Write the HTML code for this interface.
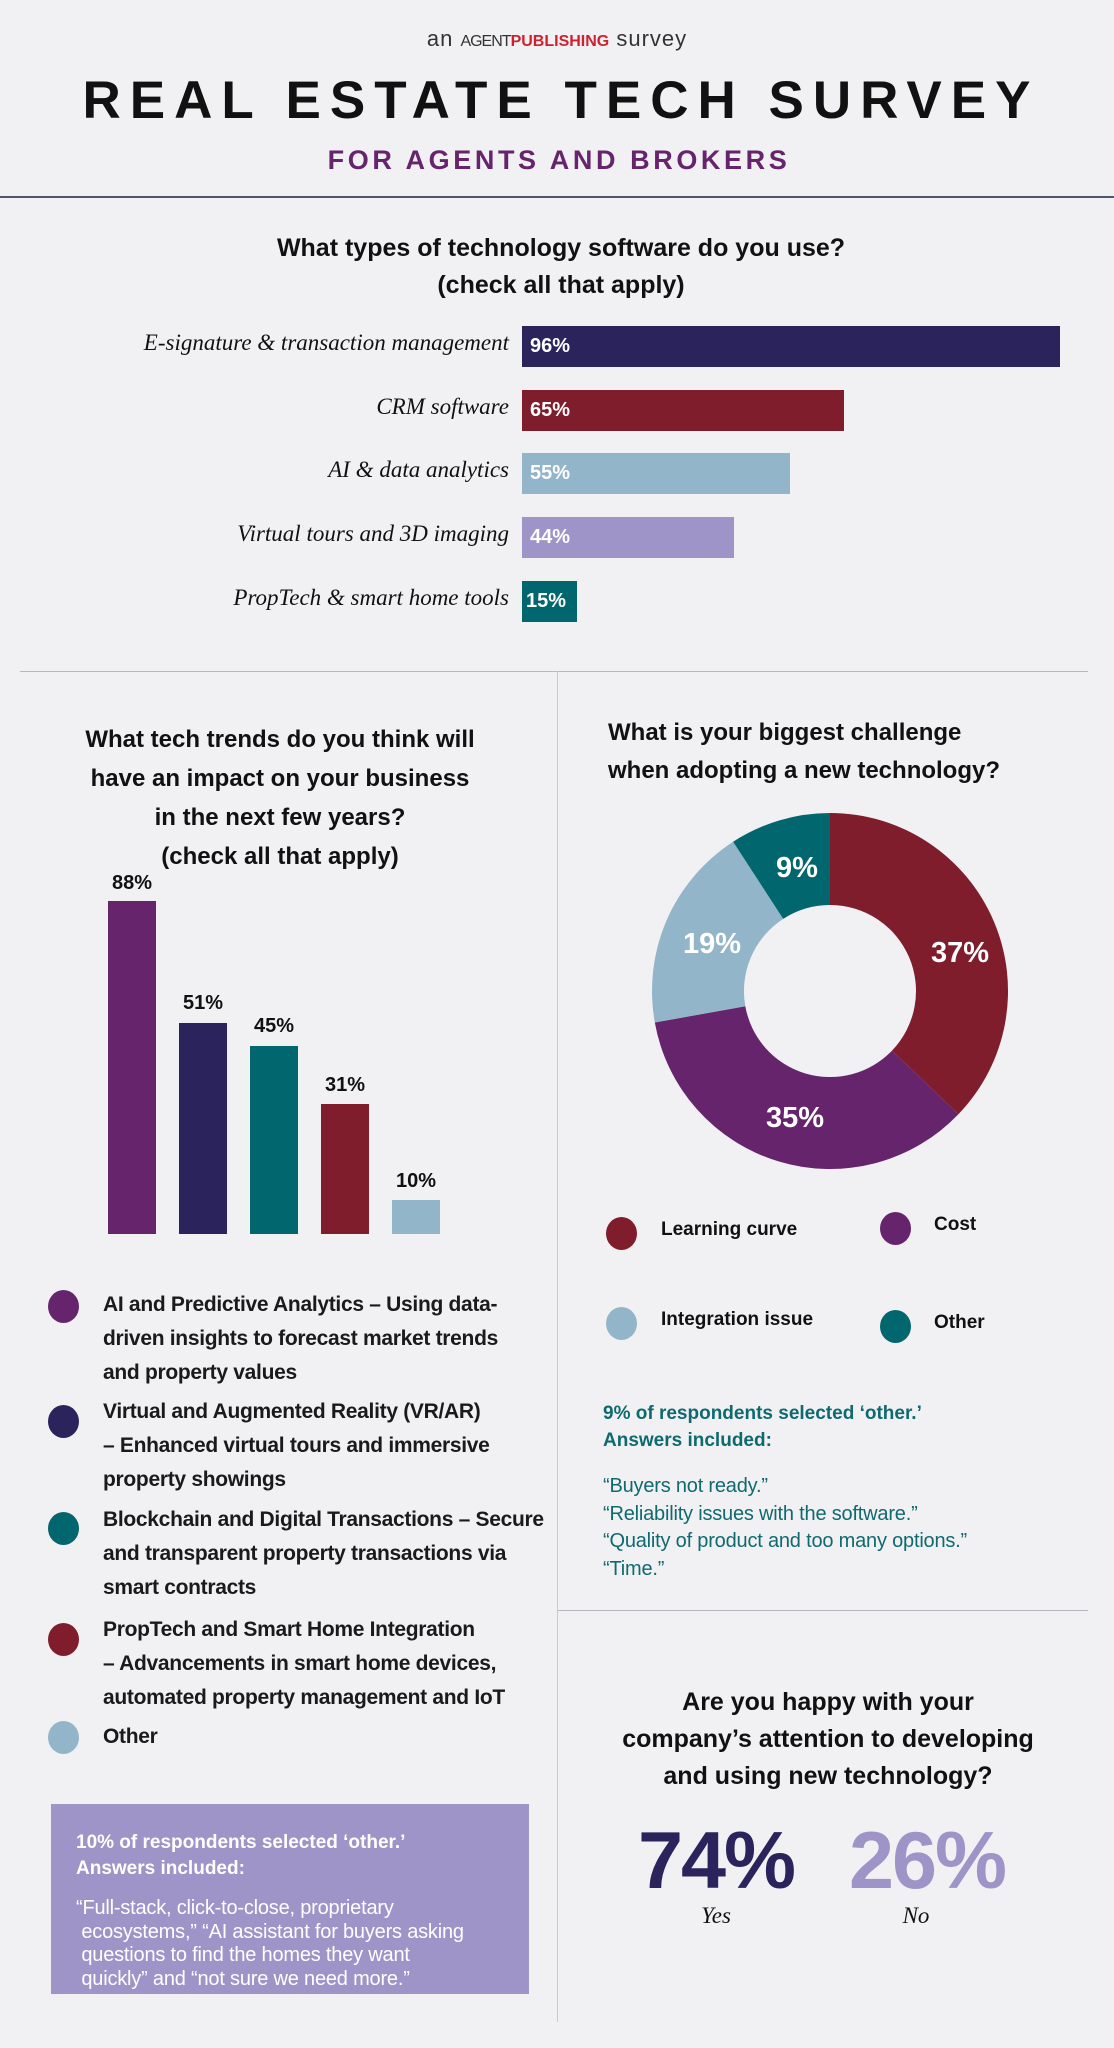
<!DOCTYPE html>
<html><head><meta charset="utf-8"><style>
body{margin:0;background:#f1f1f3;}
#p{position:relative;width:1114px;height:2048px;background:#f1f1f3;font-family:"Liberation Sans",sans-serif;color:#111;overflow:hidden}
.a{position:absolute}
.c{text-align:center}
.b{font-weight:bold}
.lab{position:absolute;right:605px;font-family:"Liberation Serif",serif;font-style:italic;font-size:23px;text-align:right;white-space:nowrap}
.bar{position:absolute;left:522px;height:41px;color:#fff;font-weight:bold;font-size:20px;line-height:41px;padding-left:8px;box-sizing:border-box}
.vb{position:absolute;width:48px}
.vl{position:absolute;width:70px;text-align:center;font-weight:bold;font-size:20px}
.dot{position:absolute;width:31px;height:33px;border-radius:50%}
.lt{position:absolute;left:103px;font-size:21px;line-height:34px;font-weight:bold;color:#1a1a1a;white-space:nowrap;letter-spacing:-0.3px}
</style></head><body><div id="p">
<div class="a c" style="left:0;width:1114px;top:26px;font-size:22px;color:#333;letter-spacing:1px">an <span style="font-size:16px;letter-spacing:-1px">AGENT</span><span style="font-size:16px;color:#d0202e;font-weight:bold;letter-spacing:0">PUBLISHING</span> survey</div>
<div class="a c b" style="left:0;width:1122px;top:70px;font-size:53px;letter-spacing:9px">REAL ESTATE TECH SURVEY</div>
<div class="a c b" style="left:0;width:1118px;top:145px;font-size:27px;letter-spacing:3.6px;color:#66246d">FOR AGENTS AND BROKERS</div>
<div class="a" style="left:0;top:196px;width:1114px;height:2px;background:#4e5670"></div>
<div class="a c b" style="left:0;width:1122px;top:230px;font-size:25px;line-height:37px">What types of technology software do you use?<br>(check all that apply)</div>
<div class="lab" style="top:330px">E-signature &amp; transaction management</div>
<div class="lab" style="top:394px">CRM software</div>
<div class="lab" style="top:457px">AI &amp; data analytics</div>
<div class="lab" style="top:521px">Virtual tours and 3D imaging</div>
<div class="lab" style="top:585px">PropTech &amp; smart home tools</div>
<div class="bar" style="top:326px;width:538px;background:#2a235c">96%</div>
<div class="bar" style="top:390px;width:322px;background:#7f1d2d">65%</div>
<div class="bar" style="top:453px;width:268px;background:#93b5c9">55%</div>
<div class="bar" style="top:517px;width:212px;background:#9f94c8">44%</div>
<div class="bar" style="top:581px;width:55px;background:#02666e;padding-left:4px">15%</div>
<div class="a" style="left:20px;top:671px;width:1068px;height:1px;background:#b9b9bd"></div>
<div class="a" style="left:557px;top:671px;width:1px;height:1351px;background:#c9c9cd"></div>
<div class="a c b" style="left:20px;width:520px;top:720px;font-size:24px;line-height:39px">What tech trends do you think will<br>have an impact on your business<br>in the next few years?<br>(check all that apply)</div>
<div class="vb" style="left:108px;top:901px;height:333px;background:#66246d"></div>
<div class="vb" style="left:179px;top:1023px;height:211px;background:#2a235c"></div>
<div class="vb" style="left:250px;top:1046px;height:188px;background:#02666e"></div>
<div class="vb" style="left:321px;top:1104px;height:130px;background:#7f1d2d"></div>
<div class="vb" style="left:392px;top:1200px;height:34px;background:#93b5c9"></div>
<div class="vl" style="left:97px;top:872px">88%</div>
<div class="vl" style="left:168px;top:992px">51%</div>
<div class="vl" style="left:239px;top:1015px">45%</div>
<div class="vl" style="left:310px;top:1074px">31%</div>
<div class="vl" style="left:381px;top:1170px">10%</div>
<div class="dot" style="left:48px;top:1290px;background:#66246d"></div>
<div class="lt" style="top:1288px">AI and Predictive Analytics – Using data-<br>driven insights to forecast market trends<br>and property values</div>
<div class="dot" style="left:48px;top:1405px;background:#2a235c"></div>
<div class="lt" style="top:1395px">Virtual and Augmented Reality (VR/AR)<br>– Enhanced virtual tours and immersive<br>property showings</div>
<div class="dot" style="left:48px;top:1512px;background:#02666e"></div>
<div class="lt" style="top:1503px">Blockchain and Digital Transactions – Secure<br>and transparent property transactions via<br>smart contracts</div>
<div class="dot" style="left:48px;top:1623px;background:#7f1d2d"></div>
<div class="lt" style="top:1613px">PropTech and Smart Home Integration<br>– Advancements in smart home devices,<br>automated property management and IoT</div>
<div class="dot" style="left:48px;top:1721px;background:#93b5c9"></div>
<div class="lt" style="top:1720px">Other</div>
<div class="a" style="left:51px;top:1804px;width:478px;height:190px;background:#9f94c8;color:#fff">
<div class="a b" style="left:25px;top:26px;font-size:19px;line-height:26px">10% of respondents selected ‘other.’<br>Answers included:</div>
<div class="a" style="left:25px;top:93px;font-size:20px;line-height:23.5px;white-space:nowrap;letter-spacing:-0.2px">“Full-stack, click-to-close, proprietary<br>&nbsp;ecosystems,” “AI assistant for buyers asking<br>&nbsp;questions to find the homes they want<br>&nbsp;quickly” and “not sure we need more.”</div>
</div>
<div class="a b" style="left:608px;top:714px;font-size:24px;line-height:38px">What is your biggest challenge<br>when adopting a new technology?</div>
<svg class="a" style="left:0;top:0" width="1114" height="2048">
<g transform="translate(830,991)">
<path d="M0,-178 A178,178 0 0 1 128.4,123.3 L62,59.6 A86,86 0 0 0 0,-86 Z" fill="#7f1d2d"/>
<path d="M128.4,123.3 A178,178 0 0 1 -175.2,31.5 L-84.7,15.2 A86,86 0 0 0 62,59.6 Z" fill="#66246d"/>
<path d="M-175.2,31.5 A178,178 0 0 1 -96.9,-149.3 L-46.8,-72.1 A86,86 0 0 0 -84.7,15.2 Z" fill="#93b5c9"/>
<path d="M-96.9,-149.3 A178,178 0 0 1 0,-178 L0,-86 A86,86 0 0 0 -46.8,-72.1 Z" fill="#02666e"/>
</g>
<g font-family="Liberation Sans" font-weight="bold" font-size="29" fill="#fff" text-anchor="middle">
<text x="797" y="877">9%</text><text x="712" y="953">19%</text><text x="960" y="962">37%</text><text x="795" y="1127">35%</text>
</g>
</svg>
<div class="dot" style="left:606px;top:1217px;background:#7f1d2d"></div>
<div class="a b" style="left:661px;top:1219px;font-size:19px">Learning curve</div>
<div class="dot" style="left:880px;top:1212px;background:#66246d"></div>
<div class="a b" style="left:934px;top:1214px;font-size:19px">Cost</div>
<div class="dot" style="left:606px;top:1307px;background:#93b5c9"></div>
<div class="a b" style="left:661px;top:1309px;font-size:19px">Integration issue</div>
<div class="dot" style="left:880px;top:1310px;background:#02666e"></div>
<div class="a b" style="left:934px;top:1312px;font-size:19px">Other</div>
<div class="a b" style="left:603px;top:1400px;font-size:19px;line-height:27px;color:#0f6a70">9% of respondents selected ‘other.’<br>Answers included:</div>
<div class="a" style="left:603px;top:1473px;font-size:20px;line-height:27.5px;color:#0f6a70;letter-spacing:-0.2px">“Buyers not ready.”<br>“Reliability issues with the software.”<br>“Quality of product and too many options.”<br>“Time.”</div>
<div class="a" style="left:558px;top:1610px;width:530px;height:1px;background:#b9b9bd"></div>
<div class="a c b" style="left:558px;width:540px;top:1684px;font-size:25px;line-height:37px">Are you happy with your<br>company’s attention to developing<br>and using new technology?</div>
<div class="a c b" style="left:616px;width:200px;top:1815px;font-size:81px;color:#2a235c;letter-spacing:-2px">74%</div>
<div class="a c b" style="left:827px;width:200px;top:1815px;font-size:81px;color:#9f94c8;letter-spacing:-2px">26%</div>
<div class="a c" style="left:666px;width:100px;top:1903px;font-size:23px;font-family:'Liberation Serif',serif;font-style:italic">Yes</div>
<div class="a c" style="left:866px;width:100px;top:1903px;font-size:23px;font-family:'Liberation Serif',serif;font-style:italic">No</div>
</div></body></html>
